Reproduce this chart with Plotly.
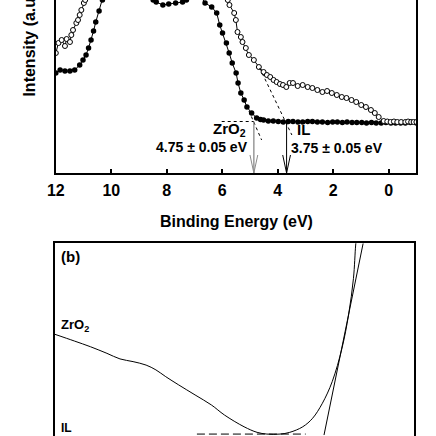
import plotly.graph_objects as go

# ---------------- Panel (a): valence-band spectra ----------------
# Filled circles (ZrO2)
zro2_energy = [12.0, 11.845, 11.67, 11.49, 11.32, 11.14, 11.02, 10.91, 10.82, 10.73,
               10.64, 10.56, 10.44, 10.32, 10.20, 10.12, 10.05, 9.9, 9.6, 9.3,
               9.0, 8.7, 8.49, 8.38, 8.14, 7.93, 7.68, 7.43, 7.29, 7.1,
               6.9, 6.75, 6.62, 6.38, 6.20, 6.09, 5.99, 5.85, 5.75, 5.64,
               5.50, 5.43, 5.33, 5.21, 5.11, 4.94, 4.76, 4.62, 4.51, 4.34,
               4.16, 3.98, 3.80, 3.62, 3.45, 3.27, 3.10, 2.92, 2.75, 2.57,
               2.39, 2.20, 2.02, 1.85, 1.67, 1.50, 1.32, 1.15, 0.97, 0.80,
               0.62, 0.45, 0.27, 0.10, -0.08, -0.25, -0.43, -0.60, -0.78, -1.0]
zro2_intensity = [1.00, 1.03, 1.02, 1.02, 1.03, 1.08, 1.13, 1.18, 1.25, 1.33,
                  1.42, 1.51, 1.62, 1.73, 1.83, 1.93, 2.00, 2.05, 2.05, 2.02,
                  1.98, 1.85, 1.73, 1.71, 1.68, 1.69, 1.70, 1.71, 1.73, 1.80,
                  1.82, 1.76, 1.70, 1.66, 1.60, 1.48, 1.40, 1.30, 1.20, 1.10,
                  1.00, 0.90, 0.80, 0.73, 0.66, 0.60, 0.55, 0.535, 0.53, 0.52,
                  0.52, 0.515, 0.51, 0.515, 0.515, 0.51, 0.51, 0.515, 0.515, 0.51,
                  0.51, 0.505, 0.51, 0.51, 0.505, 0.51, 0.505, 0.505, 0.505, 0.50,
                  0.505, 0.50, 0.50, 0.505, 0.50, 0.50, 0.50, 0.50, 0.505, 0.50]

# Open circles (IL)
il_energy = [12.0, 11.905, 11.79, 11.67, 11.61, 11.49, 11.44, 11.38, 11.26, 11.20,
             11.14, 11.08, 10.99, 10.94, 10.7, 10.3, 9.8, 9.0, 8.2, 7.4,
             6.9, 6.5, 6.1, 5.9, 5.80, 5.74, 5.57, 5.51, 5.45, 5.33,
             5.27, 5.15, 5.04, 4.86, 4.68, 4.51, 4.39, 4.27, 4.15, 4.04,
             3.92, 3.81, 3.69, 3.57, 3.45, 3.28, 3.10, 2.92, 2.75, 2.57,
             2.39, 2.22, 2.05, 1.87, 1.69, 1.52, 1.34, 1.17, 0.99, 0.82,
             0.64, 0.50, 0.36, 0.18, 0.05, -0.07, -0.19, -0.31, -0.45, -0.60,
             -0.70, -0.81, -0.90, -1.0]
il_intensity = [1.20, 1.30, 1.33, 1.27, 1.34, 1.31, 1.38, 1.43, 1.50, 1.53,
                1.58, 1.63, 1.70, 1.73, 1.85, 1.95, 2.00, 2.05, 2.00, 1.95,
                1.85, 1.85, 1.80, 1.76, 1.73, 1.68, 1.60, 1.53, 1.41, 1.36,
                1.31, 1.25, 1.18, 1.13, 1.06, 1.01, 0.98, 0.96, 0.93, 0.91,
                0.89, 0.88, 0.86, 0.90, 0.90, 0.87, 0.88, 0.86, 0.85, 0.83,
                0.81, 0.82, 0.80, 0.78, 0.76, 0.75, 0.73, 0.71, 0.68, 0.66,
                0.63, 0.60, 0.56, 0.52, 0.515, 0.51, 0.515, 0.51, 0.51, 0.51,
                0.515, 0.51, 0.51, 0.51]

# Onset construction lines (energy, intensity)
baseline_energy = [6.02, 4.86]
baseline_intensity = [0.515, 0.515]
zro2_tangent_energy = [5.21, 4.58]
zro2_tangent_intensity = [0.73, 0.33]
il_tangent_energy = [4.65, 3.49]
il_tangent_intensity = [1.05, 0.38]

# Arrow positions (as drawn) and labels
arrow_energy = [4.86, 3.68]
arrow_top = [0.515, 0.51]
arrow_colors = ["#8a8a8a", "#000000"]
onset_labels = ["4.75 ± 0.05 eV", "3.75 ± 0.05 eV"]
material_labels = ["ZrO<sub>2</sub>", "IL"]

x_ticks = [12, 10, 8, 6, 4, 2, 0]

# ---------------- Panel (b) ----------------
b_curve_x = [0.0, 0.546, 0.998, 1.454, 1.817, 2.182, 2.545, 2.818, 3.091, 3.453,
             3.909, 4.364, 4.727, 5.273, 5.636, 5.909, 6.274, 6.547, 6.909, 7.182,
             7.455, 7.728, 8.000, 8.183, 8.320, 8.382, 8.41]
b_curve_y = [5.28, 4.93, 4.63, 4.29, 4.00, 3.86, 3.68, 3.43, 3.08, 2.65,
             2.13, 1.61, 1.09, 0.48, 0.19, 0.10, 0.10, 0.19, 0.48, 0.92,
             1.70, 2.82, 4.55, 6.28, 8.18, 9.91, 10.38]
b_fit_x = [7.50, 8.59]
b_fit_y = [0.05, 10.0]
b_base_x = [3.96, 6.99]
b_base_y = [0.10, 0.10]

FONT = "Liberation Sans, Arial, sans-serif"

fig = go.Figure()

fig.add_trace(go.Scatter(
    x=zro2_energy, y=zro2_intensity, mode="lines+markers",
    line=dict(color="black", width=1),
    marker=dict(symbol="circle", size=5.5, color="black"),
    xaxis="x", yaxis="y", showlegend=False))
fig.add_trace(go.Scatter(
    x=il_energy, y=il_intensity, mode="lines+markers",
    line=dict(color="black", width=1),
    marker=dict(symbol="circle", size=5, color="white", line=dict(color="black", width=1)),
    xaxis="x", yaxis="y", showlegend=False))

for ex, iy in [(baseline_energy, baseline_intensity),
               (zro2_tangent_energy, zro2_tangent_intensity),
               (il_tangent_energy, il_tangent_intensity)]:
    fig.add_trace(go.Scatter(x=ex, y=iy, mode="lines",
                             line=dict(color="black", width=1, dash="3px,3px"),
                             xaxis="x", yaxis="y", showlegend=False, hoverinfo="skip"))

shapes = []
dx, head = 0.14, 0.18
for e, top, c in zip(arrow_energy, arrow_top, arrow_colors):
    shapes.append(dict(type="line", xref="x", yref="y", x0=e, x1=e, y0=top, y1=0.0,
                       line=dict(color=c, width=1.3 if c != "#000000" else 1)))
    for s in (-1, 1):
        shapes.append(dict(type="line", xref="x", yref="y", x0=e + s * dx, x1=e,
                           y0=head, y1=0.0, line=dict(color=c, width=1)))

# Panel (b) traces
fig.add_trace(go.Scatter(x=b_curve_x, y=b_curve_y, mode="lines",
                         line=dict(color="black", width=1, shape="spline"),
                         xaxis="x2", yaxis="y2", showlegend=False))
fig.add_trace(go.Scatter(x=b_fit_x, y=b_fit_y, mode="lines",
                         line=dict(color="black", width=1),
                         xaxis="x2", yaxis="y2", showlegend=False))
fig.add_trace(go.Scatter(x=b_base_x, y=b_base_y, mode="lines",
                         line=dict(color="black", width=1, dash="8px,4px"),
                         xaxis="x2", yaxis="y2", showlegend=False))

tf = dict(family=FONT, size=14, color="black")
annotations = [
    dict(text="<b>" + material_labels[0] + "</b>", x=5.1, y=0.44, xref="x", yref="y",
         xanchor="right", yanchor="middle", showarrow=False, borderpad=0,
         font=dict(family=FONT, size=15, color="black")),
    dict(text="<b>" + onset_labels[0] + "</b>", x=5.02, y=0.26, xref="x", yref="y",
         xanchor="right", yanchor="middle", showarrow=False, borderpad=0, font=tf),
    dict(text="<b>" + material_labels[1] + "</b>", x=3.33, y=0.44, xref="x", yref="y",
         xanchor="left", yanchor="middle", showarrow=False, borderpad=0,
         font=dict(family=FONT, size=15, color="black")),
    dict(text="<b>" + onset_labels[1] + "</b>", x=3.55, y=0.255, xref="x", yref="y",
         xanchor="left", yanchor="middle", showarrow=False, borderpad=0, font=tf),
    dict(text="<b>Binding Energy (eV)</b>", x=232 / 436, y=1 - 221 / 436,
         xref="paper", yref="paper", xanchor="center", yanchor="middle",
         showarrow=False, font=dict(family=FONT, size=16, color="black")),
    dict(text="<b>Intensity (a.u.)</b>", x=20 / 436, y=1 - 43 / 436, textangle=-90,
         xref="paper", yref="paper", xanchor="center", yanchor="middle",
         showarrow=False, font=dict(family=FONT, size=16, color="black")),
    dict(text="<b>(b)</b>", x=51 / 436, y=1 - 256 / 436, xref="paper", yref="paper",
         xanchor="left", yanchor="middle", showarrow=False,
         font=dict(family=FONT, size=15, color="black")),
    dict(text="<b>ZrO<sub>2</sub></b>", x=51 / 436, y=1 - 325 / 436, xref="paper", yref="paper",
         xanchor="left", yanchor="middle", showarrow=False,
         font=dict(family=FONT, size=13, color="black")),
    dict(text="<b>IL</b>", x=51 / 436, y=1 - 428 / 436, xref="paper", yref="paper",
         xanchor="left", yanchor="middle", showarrow=False,
         font=dict(family=FONT, size=12, color="black")),
]

fig.update_layout(
    width=436, height=436,
    margin=dict(l=0, r=0, t=0, b=0),
    paper_bgcolor="white", plot_bgcolor="white",
    showlegend=False,
    shapes=shapes, annotations=annotations,
    xaxis=dict(domain=[47.8 / 436, 416 / 436], range=[12.0, -1.0],
               tickmode="array", tickvals=x_ticks,
               ticktext=["<b>%d</b>" % t for t in x_ticks],
               ticks="inside", ticklen=4, tickwidth=1.5, tickcolor="black",
               showline=True, linewidth=2, linecolor="black", mirror=False,
               showgrid=False, zeroline=False, anchor="y",
               tickfont=dict(family=FONT, size=16, color="black"),
               ticklabelstandoff=2),
    yaxis=dict(domain=[(436 - 173) / 436, 1], range=[0, 1.73],
               showline=True, linewidth=2, linecolor="black", mirror=True,
               showticklabels=False, ticks="", showgrid=False, zeroline=False, anchor="x"),
    xaxis2=dict(domain=[46.7 / 436, 413.3 / 436], range=[0, 10], side="top",
                showline=True, linewidth=2, linecolor="black",
                showticklabels=False, ticks="", showgrid=False, zeroline=False, anchor="y2"),
    yaxis2=dict(domain=[0, (436 - 243.3) / 436], range=[0, 10],
                showline=True, linewidth=2, linecolor="black", mirror=True,
                showticklabels=False, ticks="", showgrid=False, zeroline=False, anchor="x2"),
)

fig.write_html("out.html")
